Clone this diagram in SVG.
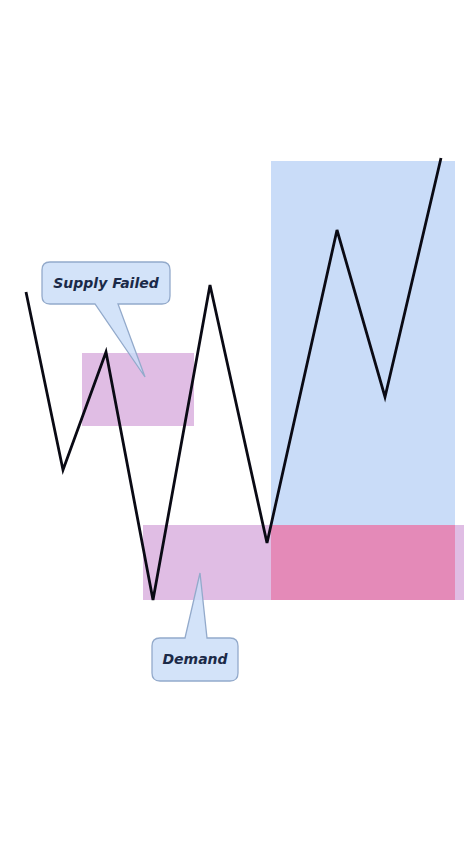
<svg xmlns="http://www.w3.org/2000/svg" width="474" height="842" viewBox="0 0 474 842">
<style>
.zone{stroke:none}
.callout{fill:#c8dcf8;fill-opacity:0.8;stroke:#93aacb;stroke-width:1.3}
.lbl{font-family:"DejaVu Sans","Liberation Sans",sans-serif;font-weight:bold;font-style:italic;font-size:14px;fill:#1b2a48;text-anchor:middle}
</style>
<rect width="474" height="842" fill="#ffffff"/>
<g id="zones">
<rect id="supply-zone" class="zone" x="82" y="353" width="112" height="73" fill="#e0bde4"/>
<rect id="demand-zone" class="zone" x="143" y="525" width="321" height="75" fill="#e0bde4"/>
<rect id="target-zone" class="zone" x="271" y="161" width="184" height="439" fill="#c9dcf8"/>
<rect id="overlap-zone" class="zone" x="271" y="525" width="184" height="75" fill="#e48ab8"/>
</g>
<g id="connectors">
<polyline points="26,292 63,470 106,352 153,600 210,285 267,543 337,230 385,397 441,158" fill="none" stroke="#0a0a14" stroke-width="2.8" stroke-linejoin="miter"/>
</g>
<g id="supply-failed">
<path class="callout" d="M50,262 H162 Q170,262 170,270 V296 Q170,304 162,304 H118 L145,377 L95,304 H50 Q42,304 42,296 V270 Q42,262 50,262 Z"/>
<text class="lbl" x="106" y="288">Supply Failed</text>
</g>
<g id="demand">
<path class="callout" d="M160,638 H185 L200,573 L207,638 H230 Q238,638 238,646 V673 Q238,681 230,681 H160 Q152,681 152,673 V646 Q152,638 160,638 Z"/>
<text class="lbl" x="195" y="664">Demand</text>
</g>
</svg>
